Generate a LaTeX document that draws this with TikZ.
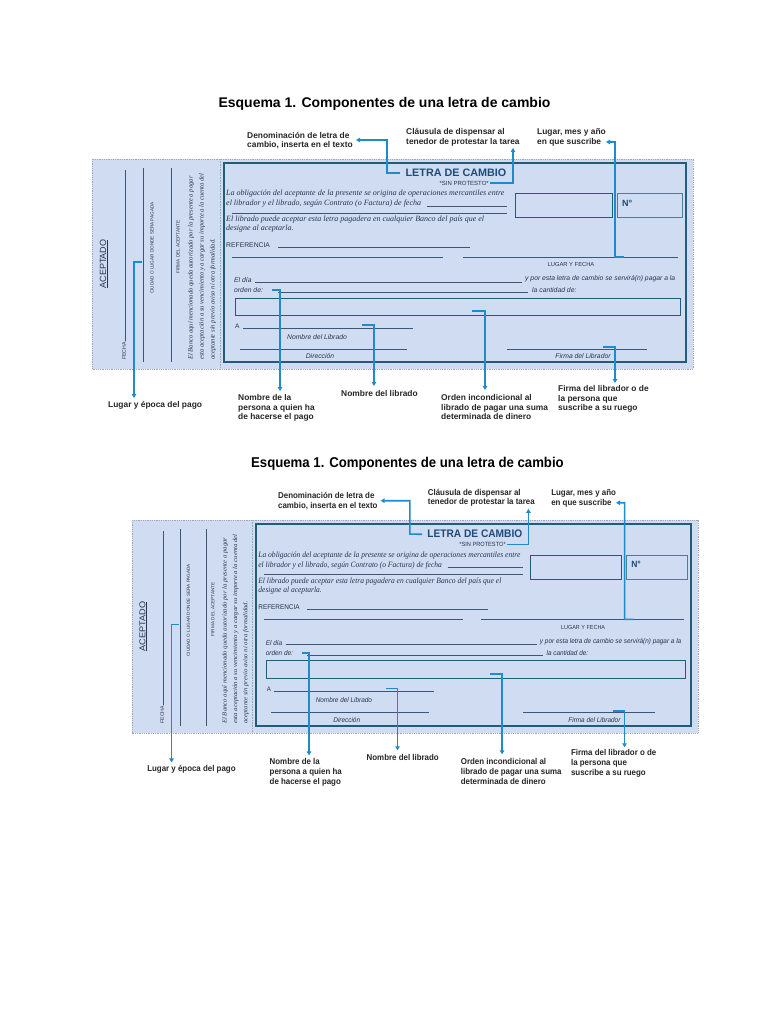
\documentclass[tikz,border=0pt]{standalone}
\usepackage{fontspec}
\setmainfont{Liberation Sans}
\newfontfamily\scriptfam{Liberation Serif}
\usetikzlibrary{arrows.meta}
\definecolor{formbg}{RGB}{207,220,241}
\definecolor{boxteal}{RGB}{34,92,122}
\definecolor{formline}{RGB}{58,88,118}
\definecolor{formtext}{RGB}{40,52,76}
\definecolor{arrowblue}{RGB}{30,140,204}
\definecolor{titleblue}{RGB}{30,75,122}
\definecolor{dotgray}{RGB}{160,168,182}
\tikzset{
  ttl/.style={font=\bfseries\fontsize{14}{16}\selectfont, inner sep=0},
  lab/.style={font=\bfseries\fontsize{8.4}{9.6}\selectfont, align=left, inner sep=0, text=black!85, anchor=west},
  conn/.style={draw=arrowblue, line width=1.6pt, -{Triangle[length=4pt,width=4.5pt]}},
  fline/.style={draw=formline, line width=0.6pt},
  ftxt/.style={font=\fontsize{5.8}{6.5}\selectfont, text=formtext, inner sep=0},
  fit/.style={font=\itshape\fontsize{6.8}{7.5}\selectfont, text=formtext, inner sep=0},
  scr/.style={font=\scriptfam\itshape\fontsize{8}{9}\selectfont, text=formtext, inner sep=0, anchor=west},
  rot/.style={rotate=90, inner sep=0, text=formtext},
  rotscr/.style={rot, anchor=west, font=\scriptfam\itshape\fontsize{6.6}{7}\selectfont},
}
\newcommand\drawLetra[1]{%
  % title
  \node[ttl] (#1title) at (384.5,104) {Esquema 1. Componentes de una letra de cambio};
  % form background
  \draw[fill=formbg, draw=dotgray, densely dotted, line width=0.8pt] (92,159) rectangle (693,369);
  \draw[draw=dotgray, densely dotted, line width=0.6pt] (220,159) -- (220,369);
  \draw[draw=boxteal, line width=2pt] (224,163) rectangle (686,362);
  % stub
  \node[rot, font=\fontsize{9}{10}\selectfont] (#1acep) at (104,264) {\underline{ACEPTADO}};
  \node[rot, font=\fontsize{5.2}{6}\selectfont, anchor=west] (#1fecha) at (124,360) {FECHA};
  \draw[fline] (125,341) -- (125,170);
  \draw[fline] (143,168) -- (143,362);
  \node[rot, font=\fontsize{4.6}{5}\selectfont] (#1ciudad) at (152,248) {CIUDAD O LUGAR DONDE SERA PAGADA};
  \draw[fline] (171,168) -- (171,362);
  \node[rot, font=\fontsize{4.6}{5}\selectfont] (#1firmaac) at (178,247) {FIRMA DEL ACEPTANTE};
  \node[rotscr] (#1p1) at (191,360) {El Banco aquí mencionado queda autorizado por la presente a pagar};
  \node[rotscr] (#1p2) at (202,360) {esta aceptación a su vencimiento y a cargar su importe a la cuenta del};
  \node[rotscr] (#1p3) at (213,360) {aceptante sin previo aviso ni otra formalidad.};
  % header
  \node[font=\bfseries\fontsize{10.8}{12}\selectfont, text=titleblue, inner sep=0] (#1letra) at (456,173) {LETRA DE CAMBIO};
  \node[ftxt, font=\fontsize{6}{7}\selectfont, anchor=east] (#1sinp) at (489,183) {*SIN PROTESTO*};
  \node[scr] (#1s1) at (226,194) {La obligación del aceptante de la presente se origina de operaciones mercantiles entre};
  \node[scr] (#1s2) at (226,204) {el librador y el librado, según Contrato (o Factura) de fecha};
  \draw[fline] (427,206) -- (507,206);
  \draw[fline, line width=0.8pt] (232,213) -- (507,213);
  \node[scr] (#1s3) at (226,220) {El librado puede aceptar esta letra pagadera en cualquier Banco del país que el};
  \node[scr] (#1s4) at (226,229) {designe al aceptarla.};
  \node[ftxt, font=\fontsize{6.8}{7.5}\selectfont, anchor=west] (#1ref) at (226,245) {REFERENCIA};
  \draw[fline] (278,247) -- (470,247);
  \draw[fline] (232,257) -- (443,257);
  \draw[fline] (463,257) -- (678,257);
  \node[ftxt] (#1lyf) at (571,265) {LUGAR Y FECHA};
  \draw[draw=boxteal, line width=1pt] (515,194) rectangle (612,218);
  \draw[draw=boxteal!80, line width=1pt] (617,194) rectangle (682,218);
  \node[font=\bfseries\fontsize{9}{10}\selectfont, text=titleblue, anchor=west, inner sep=0] (#1num) at (622,203) {N°};
  % body
  \node[fit, anchor=west] (#1dia) at (234,280) {El día};
  \draw[fline] (255,282) -- (522,282);
  \node[fit, anchor=west] (#1porest) at (525,279) {y por esta letra de cambio se servirá(n) pagar a la};
  \node[fit, anchor=west] (#1orden) at (234,290) {orden de:};
  \draw[fline, line width=0.4pt] (278,292) -- (528,292);
  \node[fit, anchor=west] (#1cant) at (532,290) {la cantidad de:};
  \draw[draw=boxteal, line width=1pt] (235,298) rectangle (680,315);
  \node[ftxt, font=\fontsize{6.5}{7}\selectfont, anchor=west] (#1A) at (235,326) {A};
  \draw[fline, line width=0.4pt] (243,328) -- (413,328);
  \node[fit] (#1nomlib) at (317,337) {Nombre del Librado};
  \draw[fline, line width=0.4pt] (240,349) -- (407,349);
  \node[fit] (#1dir) at (320,356) {Dirección};
  \draw[fline, line width=0.4pt] (507,349) -- (647,349);
  \node[fit] (#1firlib) at (583,356) {Firma del Librador};
  % labels
  \node[lab] (#1Lden) at (247,140.5) {Denominación de letra de\\cambio, inserta en el texto};
  \node[lab] (#1Lcla) at (406,137) {Cláusula de dispensar al\\tenedor de protestar la tarea};
  \node[lab] (#1Llug) at (537,137.5) {Lugar, mes y año\\en que suscribe};
  \node[lab] (#1Lepo) at (108,405) {Lugar y época del pago};
  \node[lab] (#1Lper) at (238,408) {Nombre de la\\persona a quien ha\\de hacerse el pago};
  \node[lab] (#1Llib) at (341,393) {Nombre del librado};
  \node[lab] (#1Lord) at (441,407) {Orden incondicional al\\librado de pagar una suma\\determinada de dinero};
  \node[lab] (#1Lfir) at (558,399) {Firma del librador o de\\la persona que\\suscribe a su ruego};
  % connector anchors
  \coordinate (#1c1) at (400,173);
  \coordinate (#1c2) at (490,183);
  \coordinate (#1c3) at (624,257);
  \coordinate (#1c4) at (142,262);
  \coordinate (#1c5) at (272,290);
  \coordinate (#1c6) at (362,325);
  \coordinate (#1c7) at (472,311);
  \coordinate (#1c8) at (603,347);
  \coordinate (#1e1) at (356,140);
  \coordinate (#1e2) at (513,148);
  \coordinate (#1e3) at (606,142);
  \coordinate (#1e4) at (134,398);
  \coordinate (#1e5) at (280,391);
  \coordinate (#1e6) at (374,386);
  \coordinate (#1e7) at (485,390);
  \coordinate (#1e8) at (615,383);
  % connectors
  \draw[conn] (#1c1) -- (387,173) |- (#1e1);
  \draw[conn] (#1c2) -| (#1e2);
  \draw[conn] (#1c3) -- (615,257) |- (#1e3);
  \draw[conn] (#1c4) -| (#1e4);
  \draw[conn] (#1c5) -| (#1e5);
  \draw[conn] (#1c6) -| (#1e6);
  \draw[conn] (#1c7) -| (#1e7);
  \draw[conn] (#1c8) -| (#1e8);
}
\begin{document}
\begin{tikzpicture}[x=1pt,y=-1pt]
\fill[white] (0,0) rectangle (768,1024);
\useasboundingbox (0,0) rectangle (768,1024);
\drawLetra{a}
\begin{scope}[shift={(45.35,358.7)}, xscale=0.9418, yscale=1.0143, transform shape]
\drawLetra{b}
\end{scope}
\end{tikzpicture}
\end{document}
